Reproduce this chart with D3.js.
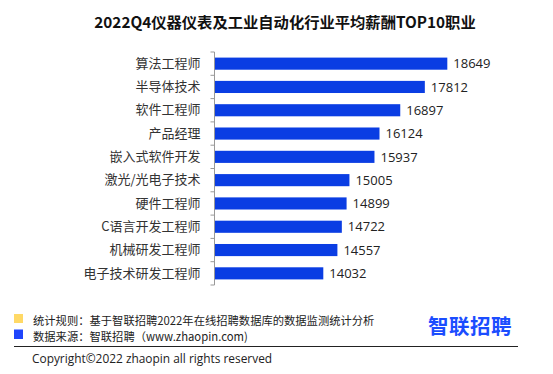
<!DOCTYPE html>
<html><head><meta charset="utf-8">
<script src="https://cdn.jsdelivr.net/npm/d3@7"></script>
<style>
body{margin:0;background:#fff;}
svg{display:block;font-family:"Noto Sans CJK SC","Microsoft YaHei",sans-serif;}
</style></head>
<body>
<svg id="c" width="553" height="374"></svg>
<script>
const categories = ["算法工程师","半导体技术","软件工程师","产品经理","嵌入式软件开发","激光/光电子技术","硬件工程师","C语言开发工程师","机械研发工程师","电子技术研发工程师"];
const salaries = [18649,17812,16897,16124,15937,15005,14899,14722,14557,14032];
const xDomain = [10000, 20000];
const title = "2022Q4仪器仪表及工业自动化行业平均薪酬TOP10职业";
const notes = ["统计规则：基于智联招聘2022年在线招聘数据库的数据监测统计分析","数据来源：智联招聘（www.zhaopin.com)"];
const copyright = "Copyright©2022 zhaopin all rights reserved";

const svg = d3.select("#c");
const x = d3.scaleLinear().domain(xDomain).range([215, 483.6]);
const y = d3.scaleBand().domain(categories).range([52, 285]).paddingInner(0.48).paddingOuter(0.24);

svg.append("text").attr("x", 285).attr("y", 28).attr("text-anchor","middle")
  .attr("font-size", 15.3).attr("font-weight", "bold").attr("fill","#111").text(title);

// bars
svg.selectAll("rect.bar").data(categories).join("rect").attr("class","bar")
  .attr("x", x(xDomain[0])).attr("y", d => y(d))
  .attr("width", (d,i) => x(salaries[i]) - x(xDomain[0]))
  .attr("height", y.bandwidth()).attr("fill", "#0a3de3");

// value labels
svg.selectAll("text.val").data(categories).join("text").attr("class","val")
  .attr("x", (d,i) => x(salaries[i]) + 6).attr("y", d => y(d) + y.bandwidth()/2)
  .attr("dy","0.36em").attr("font-size", 13).attr("fill","#222")
  .attr("font-family","'Open Sans','Segoe UI',sans-serif")
  .text((d,i) => salaries[i]);

// axis
const yAxis = d3.axisLeft(y).tickSizeInner(0).tickSizeOuter(0).tickPadding(14);
const g = svg.append("g").attr("transform","translate(214.5,0)").call(yAxis);
g.selectAll("text").attr("font-size", 13).attr("fill","#333")
  .attr("font-family","'Noto Sans CJK SC',sans-serif");
const bounds = d3.range(categories.length + 1).map(i => 52 + i * (285 - 52) / categories.length);
g.selectAll("line.bt").data(bounds).join("line").attr("class","bt")
  .attr("x1", -4).attr("x2", 0).attr("y1", d => d).attr("y2", d => d).attr("stroke","#999");
g.select(".domain").attr("d", "M0,52V285").attr("stroke","#999");

// footer
svg.append("rect").attr("x",14).attr("y",314).attr("width",9).attr("height",9).attr("fill","#ffd966");
svg.append("rect").attr("x",14).attr("y",329.5).attr("width",9).attr("height",9.5).attr("fill","#1f45fc");
svg.append("text").attr("x",33).attr("y",325).attr("font-size",11.3).attr("fill","#222").text(notes[0]);
svg.append("text").attr("x",33).attr("y",341).attr("font-size",11.3).attr("fill","#222").text(notes[1]);
svg.append("line").attr("x1",14).attr("x2",518).attr("y1",346.5).attr("y2",346.5).attr("stroke","#222").attr("stroke-width",1);
svg.append("text").attr("x",32).attr("y",363).attr("font-size",11.9).attr("fill","#222")
  .attr("font-family","'Open Sans',sans-serif").text(copyright);

// logo
svg.append("text").attr("x",470).attr("y",334).attr("text-anchor","middle").attr("font-size",20.5)
  .attr("font-weight","bold").attr("fill","#1b4dff").attr("letter-spacing","0.5").text("智联招聘");
</script>
</body></html>
